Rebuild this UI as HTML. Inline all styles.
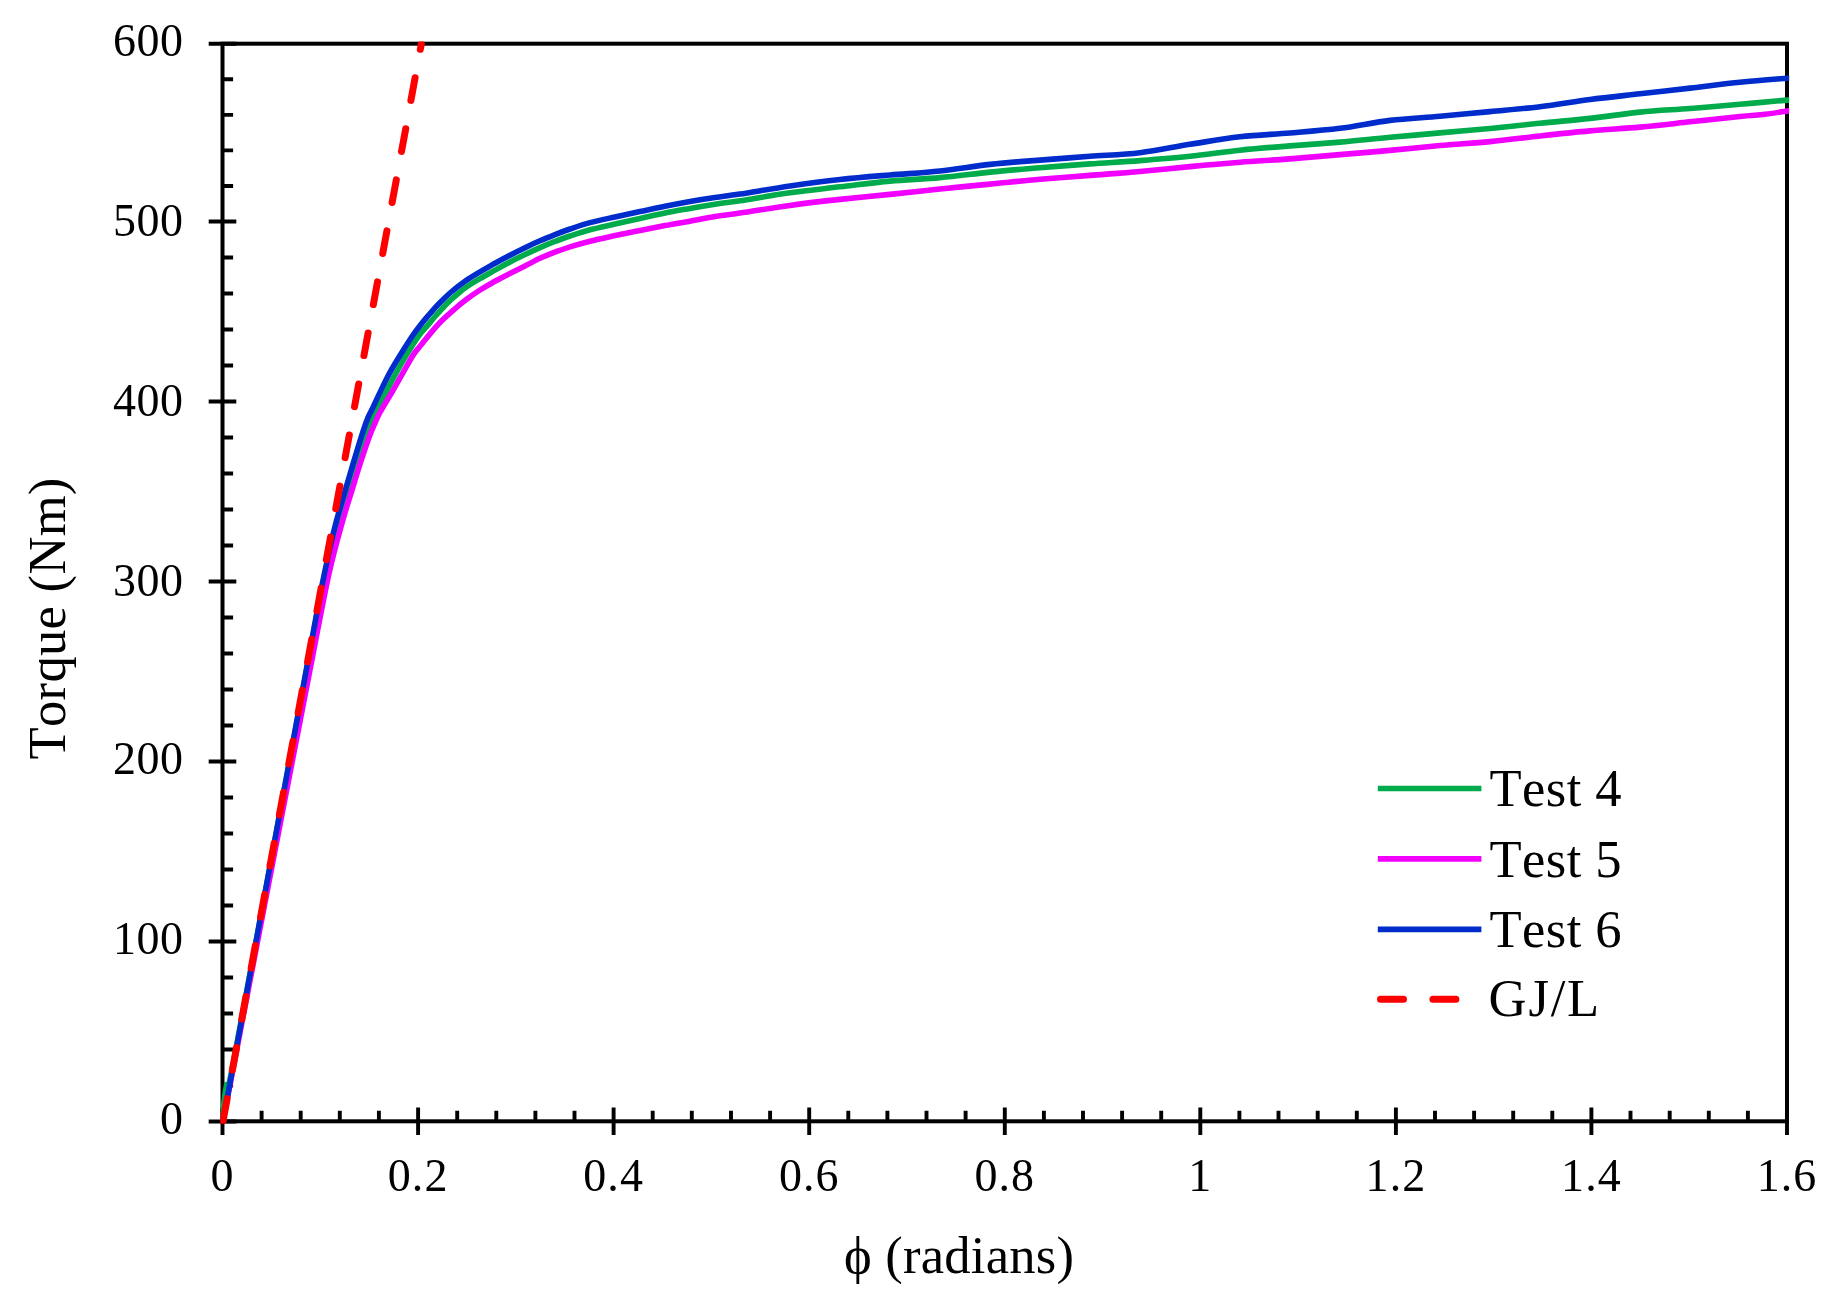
<!DOCTYPE html>
<html lang="en"><head><meta charset="utf-8"><title>Torque vs twist</title>
<style>
html,body{margin:0;padding:0;background:#fff;}
body{width:1833px;height:1305px;overflow:hidden;}
svg{display:block;filter:blur(0.45px);}
svg text{font-family:"Liberation Serif",serif;fill:#000;font-kerning:none;}
.tick{font-size:46px;}
.title{font-size:52.6px;}
.leg{font-size:52.6px;}
</style></head><body>
<svg width="1833" height="1305" viewBox="0 0 1833 1305">
<rect width="1833" height="1305" fill="#fff"/>
<g stroke="#000" fill="none" stroke-linecap="butt">
<rect x="222.5" y="43.7" width="1564.5" height="1077.6" stroke-width="4.0"/>
<path d="M222.5,1107.5 V1135.1 M261.6,1110.7 V1121.3 M300.7,1110.7 V1121.3 M339.8,1110.7 V1121.3 M378.9,1110.7 V1121.3 M418.1,1107.5 V1135.1 M457.2,1110.7 V1121.3 M496.3,1110.7 V1121.3 M535.4,1110.7 V1121.3 M574.5,1110.7 V1121.3 M613.6,1107.5 V1135.1 M652.7,1110.7 V1121.3 M691.8,1110.7 V1121.3 M731.0,1110.7 V1121.3 M770.1,1110.7 V1121.3 M809.2,1107.5 V1135.1 M848.3,1110.7 V1121.3 M887.4,1110.7 V1121.3 M926.5,1110.7 V1121.3 M965.6,1110.7 V1121.3 M1004.8,1107.5 V1135.1 M1043.9,1110.7 V1121.3 M1083.0,1110.7 V1121.3 M1122.1,1110.7 V1121.3 M1161.2,1110.7 V1121.3 M1200.3,1107.5 V1135.1 M1239.4,1110.7 V1121.3 M1278.5,1110.7 V1121.3 M1317.7,1110.7 V1121.3 M1356.8,1110.7 V1121.3 M1395.9,1107.5 V1135.1 M1435.0,1110.7 V1121.3 M1474.1,1110.7 V1121.3 M1513.2,1110.7 V1121.3 M1552.3,1110.7 V1121.3 M1591.4,1107.5 V1135.1 M1630.5,1110.7 V1121.3 M1669.7,1110.7 V1121.3 M1708.8,1110.7 V1121.3 M1747.9,1110.7 V1121.3 M1787.0,1107.5 V1135.1 M208.7,1121.5 H236.3 M222.5,1085.5 H233.1 M222.5,1049.5 H233.1 M222.5,1013.5 H233.1 M222.5,977.5 H233.1 M208.7,941.5 H236.3 M222.5,905.5 H233.1 M222.5,869.5 H233.1 M222.5,833.5 H233.1 M222.5,797.5 H233.1 M208.7,761.5 H236.3 M222.5,725.5 H233.1 M222.5,689.5 H233.1 M222.5,653.5 H233.1 M222.5,617.5 H233.1 M208.7,581.5 H236.3 M222.5,545.5 H233.1 M222.5,509.5 H233.1 M222.5,473.5 H233.1 M222.5,437.5 H233.1 M208.7,401.5 H236.3 M222.5,365.5 H233.1 M222.5,329.5 H233.1 M222.5,293.5 H233.1 M222.5,257.5 H233.1 M208.7,221.5 H236.3 M222.5,186.0 H233.1 M222.5,150.4 H233.1 M222.5,114.9 H233.1 M222.5,79.3 H233.1 M208.7,43.7 H236.3" stroke-width="3.9"/>
</g>
<clipPath id="cp"><rect x="220.3" y="41.5" width="1568.9" height="1082.2"/></clipPath>
<g clip-path="url(#cp)" fill="none" stroke-linejoin="round" stroke-linecap="butt" stroke-width="5.6">
<path d="M223.0,1121.2 C223.2,1118.0 223.4,1108.0 224.0,1102.0 C224.6,1096.0 225.0,1092.0 226.6,1085.0 C228.2,1078.0 221.4,1124.2 233.8,1060.0 C246.2,995.8 286.7,776.7 301.0,700.0 C315.4,623.3 314.7,625.8 319.7,600.0 C324.8,574.2 328.5,558.3 331.6,545.0 C334.6,531.7 335.5,528.8 338.2,520.0 C340.8,511.2 344.3,501.3 347.3,492.0 C350.3,482.7 353.2,473.6 356.2,464.4 C359.2,455.2 362.8,444.5 365.5,436.8 C368.2,429.1 370.7,422.9 372.6,418.4 C374.5,413.9 374.7,414.6 377.0,410.0 C379.3,405.4 383.4,397.3 386.6,391.1 C389.8,384.9 392.8,378.9 396.2,372.8 C399.6,366.7 403.1,360.5 406.8,354.4 C410.5,348.3 415.1,340.9 418.6,336.0 C422.1,331.1 424.9,328.7 428.0,325.0 C431.1,321.3 434.3,317.4 437.3,314.0 C440.3,310.6 443.9,306.8 446.0,304.6 C448.1,302.4 446.8,303.4 450.0,300.6 C453.2,297.8 460.0,291.7 465.0,288.0 C470.0,284.3 475.0,281.6 480.0,278.6 C485.0,275.6 490.0,272.9 495.0,270.1 C500.0,267.3 505.0,264.6 510.0,262.0 C515.0,259.4 520.0,257.0 525.0,254.6 C530.0,252.2 535.0,249.8 540.0,247.6 C545.0,245.4 550.0,243.3 555.0,241.4 C560.0,239.5 564.2,237.9 570.0,236.0 C575.8,234.1 582.5,231.8 590.0,229.8 C597.5,227.8 606.7,225.9 615.0,224.0 C623.3,222.1 631.7,220.2 640.0,218.4 C648.3,216.6 656.7,214.7 665.0,213.0 C673.3,211.3 681.7,209.9 690.0,208.4 C698.3,206.9 706.7,205.5 715.0,204.2 C723.3,202.9 727.5,202.7 740.0,200.8 C752.5,198.9 773.3,195.1 790.0,192.8 C806.7,190.5 823.3,188.8 840.0,186.8 C856.7,184.9 873.3,182.6 890.0,181.1 C906.7,179.6 923.3,179.1 940.0,177.6 C956.7,176.1 973.3,173.8 990.0,172.1 C1006.7,170.4 1023.3,169.1 1040.0,167.7 C1056.7,166.3 1073.3,165.1 1090.0,163.9 C1106.7,162.7 1123.3,161.9 1140.0,160.6 C1156.7,159.3 1173.3,158.0 1190.0,156.3 C1206.7,154.6 1223.3,151.9 1240.0,150.2 C1256.7,148.5 1273.3,147.2 1290.0,145.9 C1306.7,144.6 1323.3,143.5 1340.0,142.1 C1356.7,140.7 1373.3,138.8 1390.0,137.3 C1406.7,135.8 1423.3,134.4 1440.0,132.9 C1456.7,131.4 1473.3,130.1 1490.0,128.5 C1506.7,126.9 1523.3,124.9 1540.0,123.2 C1556.7,121.5 1573.3,120.2 1590.0,118.4 C1606.7,116.6 1623.3,113.8 1640.0,112.1 C1656.7,110.4 1673.3,109.8 1690.0,108.5 C1706.7,107.2 1723.8,105.7 1740.0,104.3 C1756.2,102.9 1778.5,100.8 1787.0,100.1 C1795.5,99.3 1790.3,99.8 1791.0,99.8" stroke="#00ab4c"/>
<path d="M223.0,1121.2 C230.1,1084.0 251.6,972.4 265.9,898.0 C280.2,823.6 298.5,728.8 309.0,675.0 C319.4,621.2 323.1,600.8 328.7,575.0 C334.4,549.2 339.1,533.8 342.9,520.0 C346.7,506.2 348.6,501.3 351.4,492.0 C354.3,482.7 356.9,473.6 359.9,464.4 C362.9,455.2 366.4,444.5 369.3,436.8 C372.1,429.1 375.0,422.9 377.0,418.4 C379.0,413.9 378.7,414.6 381.3,410.0 C383.9,405.4 389.0,397.3 392.6,391.1 C396.2,384.9 399.4,378.9 402.9,372.8 C406.4,366.7 410.6,359.0 413.6,354.4 C416.6,349.8 416.9,350.0 421.0,345.0 C425.1,340.0 432.6,330.2 438.3,324.2 C444.0,318.1 450.6,312.7 455.0,308.7 C459.4,304.7 460.8,303.5 465.0,300.4 C469.2,297.3 475.0,293.2 480.0,290.0 C485.0,286.8 490.0,284.1 495.0,281.3 C500.0,278.5 505.0,275.9 510.0,273.4 C515.0,270.8 520.0,268.5 525.0,266.0 C530.0,263.5 535.0,260.6 540.0,258.3 C545.0,256.0 550.0,254.1 555.0,252.2 C560.0,250.3 564.2,248.6 570.0,246.8 C575.8,245.0 582.5,243.1 590.0,241.2 C597.5,239.3 606.7,237.4 615.0,235.6 C623.3,233.8 631.7,232.3 640.0,230.6 C648.3,228.9 656.7,227.2 665.0,225.6 C673.3,224.0 681.7,222.7 690.0,221.2 C698.3,219.7 706.7,217.8 715.0,216.4 C723.3,215.1 727.5,214.9 740.0,213.1 C752.5,211.3 773.3,207.7 790.0,205.4 C806.7,203.1 823.3,201.2 840.0,199.4 C856.7,197.6 873.3,196.1 890.0,194.4 C906.7,192.7 923.3,190.7 940.0,189.0 C956.7,187.3 973.3,185.7 990.0,184.1 C1006.7,182.5 1023.3,180.6 1040.0,179.2 C1056.7,177.8 1073.3,176.7 1090.0,175.4 C1106.7,174.1 1123.3,173.0 1140.0,171.5 C1156.7,170.0 1173.3,168.2 1190.0,166.6 C1206.7,165.0 1223.3,163.5 1240.0,162.2 C1256.7,160.9 1273.3,160.2 1290.0,158.9 C1306.7,157.6 1323.3,156.0 1340.0,154.6 C1356.7,153.2 1373.3,151.9 1390.0,150.4 C1406.7,148.9 1423.3,147.0 1440.0,145.5 C1456.7,144.0 1473.3,143.2 1490.0,141.6 C1506.7,140.0 1523.3,137.8 1540.0,136.0 C1556.7,134.2 1573.3,132.4 1590.0,130.9 C1606.7,129.4 1623.3,128.6 1640.0,127.1 C1656.7,125.6 1673.3,123.6 1690.0,121.8 C1706.7,120.0 1727.5,117.8 1740.0,116.5 C1752.5,115.2 1757.2,115.2 1765.0,114.3 C1772.8,113.4 1782.7,111.6 1787.0,110.9 C1791.3,110.2 1790.3,110.5 1791.0,110.4" stroke="#f200ff"/>
<path d="M223.0,1121.2 C229.8,1084.3 250.8,970.2 263.7,900.0 C276.7,829.8 291.5,750.0 300.7,700.0 C310.0,650.0 315.3,620.8 319.2,600.0 C323.1,579.2 322.3,584.2 324.1,575.0 C326.0,565.8 328.5,554.2 330.6,545.0 C332.7,535.8 334.3,528.8 336.7,520.0 C339.1,511.2 342.1,501.3 344.8,492.0 C347.5,482.7 350.2,473.6 352.9,464.4 C355.7,455.2 358.8,444.5 361.3,436.8 C363.8,429.1 365.9,422.9 367.7,418.4 C369.4,413.9 369.5,414.6 371.7,410.0 C373.9,405.4 377.6,397.3 380.6,391.1 C383.6,384.9 386.4,378.9 389.7,372.8 C393.0,366.7 396.8,360.5 400.6,354.4 C404.4,348.3 409.1,340.9 412.4,336.0 C415.7,331.1 417.7,328.6 420.5,325.0 C423.3,321.4 426.4,317.7 429.3,314.4 C432.2,311.1 434.2,308.6 437.7,305.0 C441.1,301.4 445.4,297.0 450.0,293.0 C454.6,289.0 460.0,284.7 465.0,281.2 C470.0,277.7 475.0,274.8 480.0,271.8 C485.0,268.8 490.0,266.1 495.0,263.3 C500.0,260.6 505.0,257.9 510.0,255.3 C515.0,252.7 520.0,250.2 525.0,247.8 C530.0,245.4 535.0,243.0 540.0,240.8 C545.0,238.6 550.0,236.6 555.0,234.6 C560.0,232.6 564.2,231.0 570.0,229.0 C575.8,227.0 582.5,224.6 590.0,222.6 C597.5,220.6 606.7,218.8 615.0,217.0 C623.3,215.2 631.7,213.4 640.0,211.6 C648.3,209.8 656.7,207.9 665.0,206.2 C673.3,204.5 681.7,202.9 690.0,201.4 C698.3,199.9 706.7,198.6 715.0,197.4 C723.3,196.2 727.5,196.0 740.0,194.1 C752.5,192.2 773.3,188.3 790.0,185.9 C806.7,183.5 823.3,181.3 840.0,179.5 C856.7,177.7 873.3,176.4 890.0,175.0 C906.7,173.6 923.3,172.8 940.0,171.0 C956.7,169.2 973.3,166.2 990.0,164.4 C1006.7,162.6 1023.3,161.4 1040.0,160.1 C1056.7,158.8 1073.3,157.5 1090.0,156.3 C1106.7,155.1 1123.3,154.7 1140.0,152.7 C1156.7,150.7 1173.3,147.0 1190.0,144.3 C1206.7,141.7 1223.3,138.7 1240.0,136.8 C1256.7,134.9 1273.3,134.4 1290.0,133.0 C1306.7,131.6 1323.3,130.4 1340.0,128.3 C1356.7,126.2 1373.3,122.4 1390.0,120.4 C1406.7,118.4 1423.3,117.7 1440.0,116.2 C1456.7,114.7 1473.3,113.2 1490.0,111.6 C1506.7,110.0 1523.3,108.7 1540.0,106.7 C1556.7,104.7 1573.3,101.7 1590.0,99.5 C1606.7,97.3 1623.3,95.7 1640.0,93.8 C1656.7,91.9 1673.3,90.0 1690.0,88.1 C1706.7,86.2 1723.8,83.8 1740.0,82.2 C1756.2,80.6 1778.5,78.9 1787.0,78.2 C1795.5,77.5 1790.3,78.0 1791.0,77.9" stroke="#002ccc"/>
</g>
<path clip-path="url(#cp)" d="M223.0,1121.2 L421.3,44.0" fill="none" stroke="#ff0000" stroke-width="7" stroke-linecap="round" stroke-dasharray="23 28.9"/>
<g class="tick" text-anchor="end">
<text x="183.0" y="1133.9">0</text>
<text x="183.0" y="954.2" textLength="70">100</text>
<text x="183.0" y="774.2" textLength="70">200</text>
<text x="183.0" y="595.9" textLength="70">300</text>
<text x="183.0" y="415.9" textLength="70">400</text>
<text x="183.0" y="235.6" textLength="70">500</text>
<text x="183.0" y="56.2" textLength="70">600</text>
</g>
<g class="tick" text-anchor="middle">
<text x="222.0" y="1190.8">0</text>
<text x="417.6" y="1190.8" textLength="59.6">0.2</text>
<text x="613.1" y="1190.8" textLength="59.6">0.4</text>
<text x="808.7" y="1190.8" textLength="59.6">0.6</text>
<text x="1004.2" y="1190.8" textLength="59.6">0.8</text>
<text x="1199.8" y="1190.8">1</text>
<text x="1395.4" y="1190.8" textLength="59.6">1.2</text>
<text x="1590.9" y="1190.8" textLength="59.6">1.4</text>
<text x="1786.5" y="1190.8" textLength="59.6">1.6</text>
</g>
<text class="title" text-anchor="middle" x="959" y="1272.5" textLength="230">ϕ (radians)</text>
<text class="title" text-anchor="middle" transform="translate(65.1,618.5) rotate(-90)" textLength="281.8">Torque (Nm)</text>
<g fill="none" stroke-linecap="butt" stroke-width="5.7">
<path d="M1377.8,788.5 H1481.4" stroke="#00ab4c"/>
<path d="M1377.8,858.9 H1481.4" stroke="#f200ff"/>
<path d="M1377.8,929.3 H1481.4" stroke="#002ccc"/>
<path d="M1380.5,999.2 H1470" stroke="#ff0000" stroke-width="7" stroke-linecap="round" stroke-dasharray="23 29.4"/>
</g>
<g class="leg">
<text x="1489.5" y="806.0" textLength="132">Test 4</text>
<text x="1489.5" y="876.5" textLength="132">Test 5</text>
<text x="1489.5" y="946.5" textLength="132">Test 6</text>
<text x="1488.6" y="1015.6" textLength="110.6">GJ/L</text>
</g>
</svg>
</body></html>
